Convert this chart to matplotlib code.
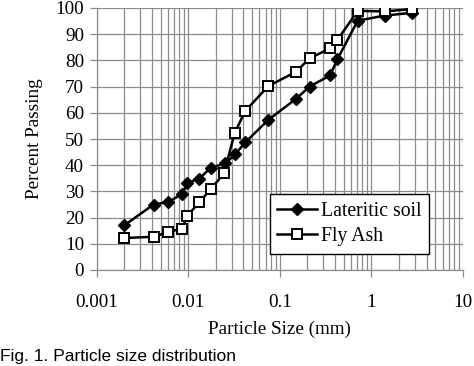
import matplotlib
matplotlib.use("Agg")
import matplotlib.pyplot as plt
from matplotlib.ticker import FixedLocator, LogLocator, NullFormatter

# Particle size (mm) of each sieve / hydrometer reading
lateritic_size = [0.002, 0.0042, 0.0061, 0.0086, 0.0098, 0.0132, 0.0176, 0.0255,
                  0.0327, 0.042, 0.075, 0.15, 0.212, 0.355, 0.425, 0.71, 1.4, 2.8]
lateritic_pass = [17, 25, 26, 29, 33.3, 34.8, 39, 40.7, 44.2, 48.7, 57.3, 65.3,
                  70, 74.3, 80.4, 95.2, 97.1, 98.2]

flyash_size = [0.002, 0.0042, 0.0061, 0.0086, 0.0098, 0.0132, 0.0176, 0.0247,
               0.0321, 0.042, 0.075, 0.15, 0.212, 0.355, 0.425, 0.71, 1.4, 2.8]
flyash_pass = [12.2, 12.7, 14.5, 15.8, 20.7, 25.8, 30.8, 36.9, 52.2, 60.7, 70.2,
               75.6, 80.8, 84.6, 87.8, 98.9, 98.7, 99.6]

x_ticks = [0.001, 0.01, 0.1, 1, 10]
x_tick_labels = ["0.001", "0.01", "0.1", "1", "10"]
y_ticks = list(range(0, 101, 10))

plt.rcParams["font.family"] = ["Liberation Serif", "DejaVu Serif"]

fig = plt.figure(figsize=(4.74, 3.66), dpi=100)
ax = fig.add_axes([96.5 / 474, 1 - 270 / 366, (463 - 96.5) / 474, (270 - 8) / 366])

grid_color = "#8c8c8c"

ax.plot(lateritic_size, lateritic_pass, color="black", lw=1.8,
        marker="D", markersize=6.5, markerfacecolor="black",
        markeredgecolor="black", label="Lateritic soil", zorder=3)
ax.plot(flyash_size, flyash_pass, color="black", lw=1.8,
        marker="s", markersize=7, markerfacecolor="white",
        markeredgecolor="black", markeredgewidth=1.4, label="Fly Ash", zorder=3)

ax.set_xscale("log")
ax.set_xlim(0.001, 10)
ax.set_ylim(0, 100)

ax.xaxis.set_major_locator(FixedLocator(x_ticks))
ax.set_xticklabels(x_tick_labels)
ax.xaxis.set_minor_locator(LogLocator(base=10, subs=range(2, 10)))
ax.xaxis.set_minor_formatter(NullFormatter())
ax.set_yticks(y_ticks)

ax.grid(True, which="major", color=grid_color, lw=0.9)
ax.grid(True, which="minor", axis="x", color=grid_color, lw=0.9)
ax.set_axisbelow(True)

for side in ["top", "right"]:
    ax.spines[side].set_visible(False)
for side in ["left", "bottom"]:
    ax.spines[side].set_color(grid_color)
    ax.spines[side].set_linewidth(0.9)

ax.tick_params(axis="both", which="major", labelsize=13.8, color=grid_color,
               length=5, width=0.9, direction="out")
ax.tick_params(axis="x", which="minor", length=0)
ax.tick_params(axis="x", pad=12)
ax.tick_params(axis="y", pad=4)

ax.set_xlabel("Particle Size (mm)", fontsize=13.8, labelpad=7)
ax.set_ylabel("Percent Passing", fontsize=13.8, labelpad=9)

legend = ax.legend(loc="lower right", bbox_to_anchor=(0.935, 0.025),
                   fontsize=14.2, frameon=True, fancybox=False,
                   edgecolor="black", framealpha=1, handlelength=2.0,
                   borderpad=0.4, labelspacing=0.3, handletextpad=0.2)
legend.get_frame().set_linewidth(1.0)

fig.text(0.0, 2 / 366, "Fig. 1. Particle size distribution",
         fontsize=12.5, family=["Liberation Sans", "DejaVu Sans"], va="bottom",
         ha="left")

fig.savefig("out.png", dpi=100)
